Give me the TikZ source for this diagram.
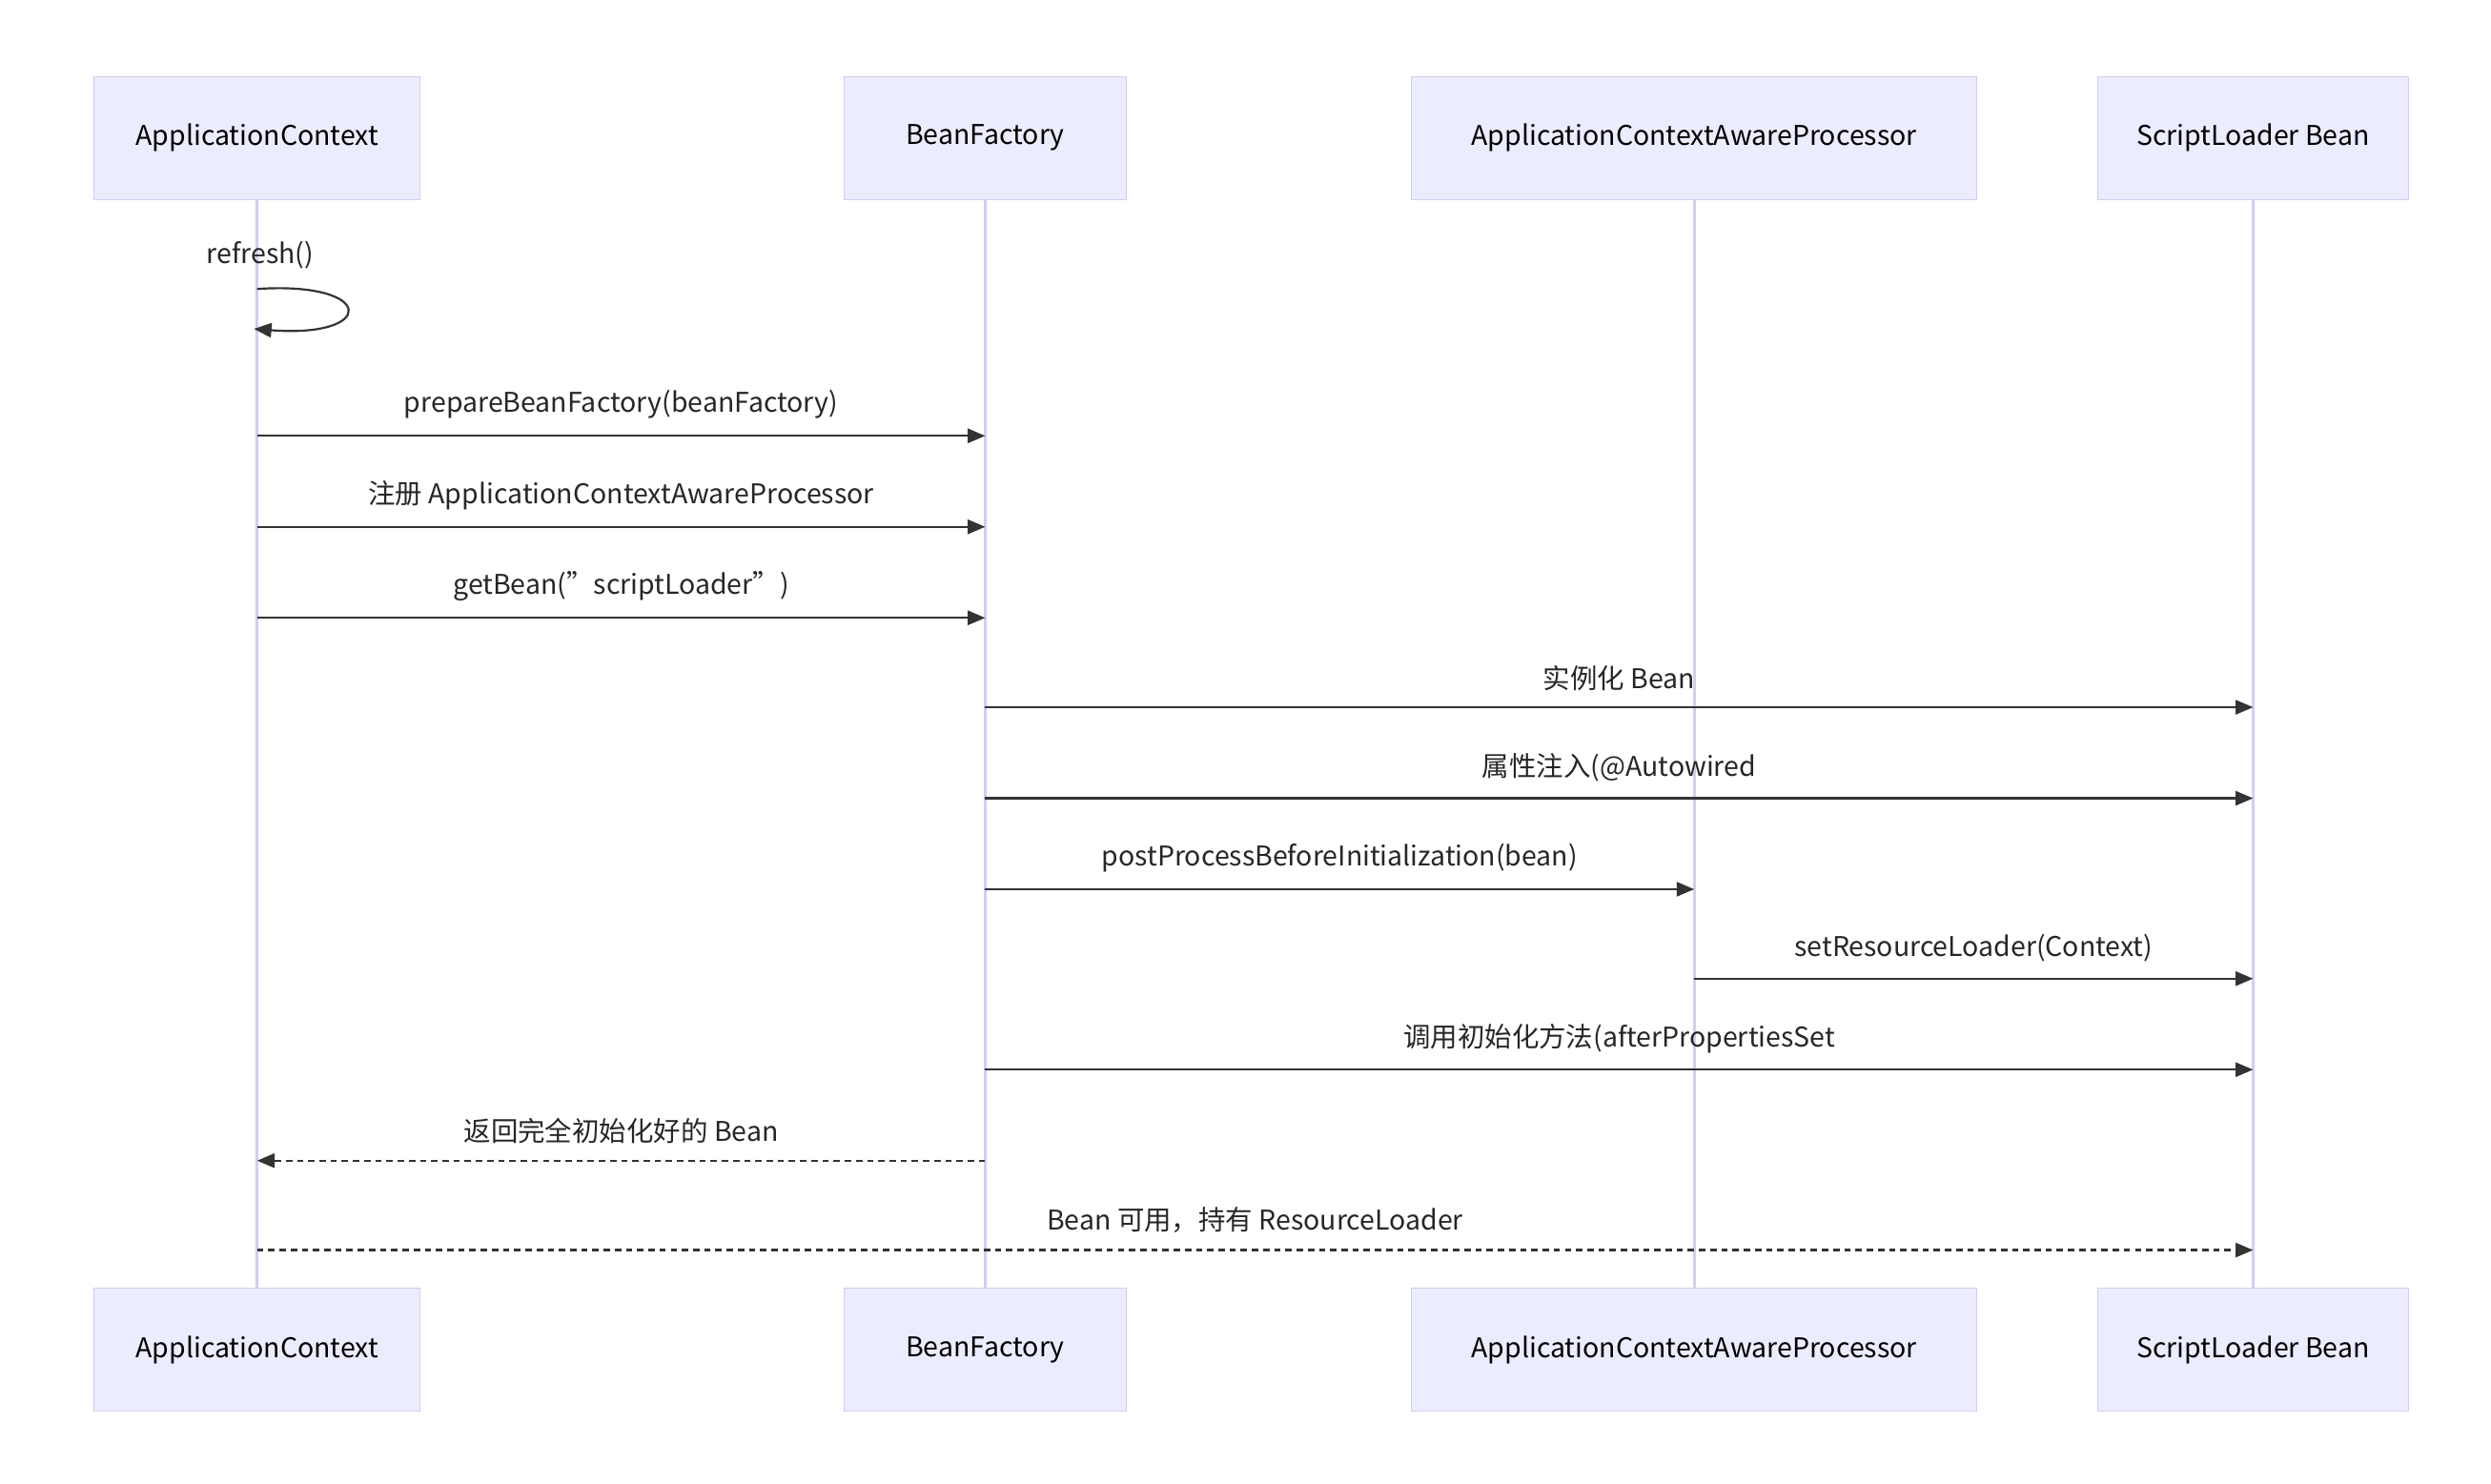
\documentclass[tikz,border=0pt]{standalone}
\usepackage{fontspec}
\setmainfont{Noto Sans CJK SC}
\usetikzlibrary{arrows.meta}
\tikzset{
  actor/.style={draw=lineC,fill=boxC,minimum height=77pt,inner sep=0pt,font=\fontsize{17}{20}\selectfont},
  life/.style={draw=lineC,line width=1.6pt},
  msg/.style={draw=black!80,line width=1.3pt,-{Triangle[length=11pt,width=9pt]}},
  ret/.style={msg,dash pattern=on 4pt off 3pt},
  lbl/.style={font=\fontsize{17}{20}\selectfont,text=black!85}
}
\definecolor{boxC}{HTML}{ECECFF}
\definecolor{lineC}{HTML}{D4CCF2}
\begin{document}
\begin{tikzpicture}[x=1pt,y=-1pt]
\useasboundingbox (0,0) rectangle (1560,929);
% participants
\foreach \n/\x/\w/\t in {ac/161/204/ApplicationContext, bf/617/177/BeanFactory, ap/1061/354/ApplicationContextAwareProcessor, sl/1411/195/ScriptLoader Bean}{
  \draw[life] (\x,125) -- (\x,807);
  \node[actor,minimum width=\w pt] (\n) at (\x,86.5) {\t};
  \node[actor,minimum width=\w pt] (\n b) at (\x,845.5) {\t};
}
% self call
\draw[msg] (ac.south |- 0,181) .. controls (236,176) and (236,212) .. (159,206);
\node[lbl] at (163,160) {refresh()};
% messages
\foreach \a/\b/\y/\s/\t in {
  ac/bf/273/msg/prepareBeanFactory(beanFactory),
  ac/bf/330/msg/注册 ApplicationContextAwareProcessor,
  ac/bf/387/msg/getBean("scriptLoader"),
  bf/sl/443/msg/实例化 Bean,
  bf/sl/500/msg/属性注入(@Autowired / @Value),
  bf/ap/557/msg/postProcessBeforeInitialization(bean),
  ap/sl/613/msg/setResourceLoader(Context),
  bf/sl/670/msg/调用初始化方法(afterPropertiesSet/@PostConstruct),
  bf/ac/727/ret/返回完全初始化好的 Bean,
  ac/sl/783/ret/{Bean 可用，持有 ResourceLoader}}{
  \draw[\s] (\a.south |- 0,\y) -- (\b.south |- 0,\y);
  \path (\a.south |- 0,\y) -- (\b.south |- 0,\y) node[lbl,midway,above=7pt] {\t};
}
\end{tikzpicture}
\end{document}
